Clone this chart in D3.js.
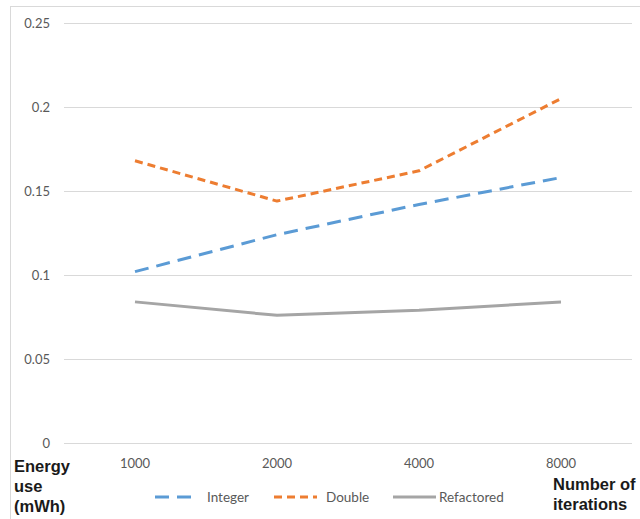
<!DOCTYPE html>
<html>
<head>
<meta charset="utf-8">
<script src="https://cdn.jsdelivr.net/npm/d3@7/dist/d3.min.js"></script>
<style>
  html, body { margin: 0; padding: 0; background: #fff; }
  svg { display: block; }
</style>
</head>
<body>
<svg id="chart" width="640" height="519"></svg>
<script>
// Energy use per run length, three implementations
const categories = ["1000", "2000", "4000", "8000"];
const integerVals = [0.102, 0.124, 0.142, 0.158];
const doubleVals = [0.168, 0.144, 0.162, 0.205];
const refactoredVals = [0.084, 0.076, 0.079, 0.084];
const yTicks = [0, 0.05, 0.1, 0.15, 0.2, 0.25];
const seriesNames = ["Integer", "Double", "Refactored"];

const series = [
  { name: seriesNames[0], values: integerVals, color: "#5b9bd5", dash: "14,8" },
  { name: seriesNames[1], values: doubleVals, color: "#ed7d31", dash: "8,5" },
  { name: seriesNames[2], values: refactoredVals, color: "#a5a5a5", dash: null }
];

const svg = d3.select("#chart");
const W = 640, H = 519;
const plot = { left: 64, right: 632, top: 23, bottom: 443 };

// outer chart frame
svg.append("rect")
  .attr("x", 10.5).attr("y", 6.5)
  .attr("width", W).attr("height", H)
  .attr("fill", "#fff").attr("stroke", "#d9d9d9").attr("stroke-width", 1);

const x = d3.scaleBand().domain(categories).range([plot.left, plot.right]);
const y = d3.scaleLinear().domain([0, 0.25]).range([plot.bottom, plot.top]);

const labelFont = "Lato, 'Open Sans', sans-serif";

// horizontal gridlines + y labels
const yAxis = d3.axisLeft(y)
  .tickValues(yTicks)
  .tickSize(-(plot.right - plot.left))
  .tickPadding(14)
  .tickFormat(d => d === 0 ? "0" : String(+d.toFixed(2)));
const gy = svg.append("g").attr("transform", `translate(${plot.left},0)`).call(yAxis);
gy.select(".domain").remove();
gy.selectAll(".tick line").attr("stroke", "#d9d9d9").attr("stroke-width", 1);
gy.selectAll(".tick text")
  .attr("fill", "#595959")
  .style("font-family", labelFont)
  .style("font-size", "13px");

// category labels
const xAxis = d3.axisBottom(x).tickSize(0).tickPadding(16);
const gx = svg.append("g").attr("transform", `translate(0,${plot.bottom})`).call(xAxis);
gx.select(".domain").remove();
gx.selectAll(".tick text")
  .attr("fill", "#595959")
  .style("font-family", labelFont)
  .style("font-size", "13px");

// series lines
const line = d3.line()
  .x((d, i) => x(categories[i]) + x.bandwidth() / 2)
  .y(d => y(d));

series.forEach(s => {
  svg.append("path")
    .datum(s.values)
    .attr("d", line)
    .attr("fill", "none")
    .attr("stroke", s.color)
    .attr("stroke-width", 3)
    .attr("stroke-linejoin", "round")
    .attr("stroke-dasharray", s.dash);
});

// axis titles
const boldFont = "'Liberation Sans', Arial, sans-serif";
const yTitle = svg.append("text")
  .attr("x", 14).attr("y", 472)
  .attr("fill", "#1a1a1a")
  .style("font-family", boldFont).style("font-size", "16.5px").style("font-weight", "bold");
["Energy", "use", "(mWh)"].forEach((t, i) => {
  yTitle.append("tspan").attr("x", 14).attr("dy", i === 0 ? 0 : 20).text(t);
});
const xTitle = svg.append("text")
  .attr("x", 553).attr("y", 490)
  .attr("fill", "#1a1a1a")
  .style("font-family", boldFont).style("font-size", "16.5px").style("font-weight", "bold");
["Number of", "iterations"].forEach((t, i) => {
  xTitle.append("tspan").attr("x", 553).attr("dy", i === 0 ? 0 : 20).text(t);
});

// legend
const legendItems = [
  { s: series[0], x0: 155, tx: 207 },
  { s: series[1], x0: 274, tx: 326 },
  { s: series[2], x0: 393, tx: 439 }
];
const legendY = 497;
legendItems.forEach(it => {
  svg.append("line")
    .attr("x1", it.x0).attr("x2", it.x0 + 43)
    .attr("y1", legendY).attr("y2", legendY)
    .attr("stroke", it.s.color).attr("stroke-width", 3)
    .attr("stroke-dasharray", it.s.dash);
  svg.append("text")
    .attr("x", it.tx).attr("y", legendY + 5)
    .attr("fill", "#595959")
    .style("font-family", labelFont)
    .style("font-size", "13.5px")
    .text(it.s.name);
});
</script>
</body>
</html>
